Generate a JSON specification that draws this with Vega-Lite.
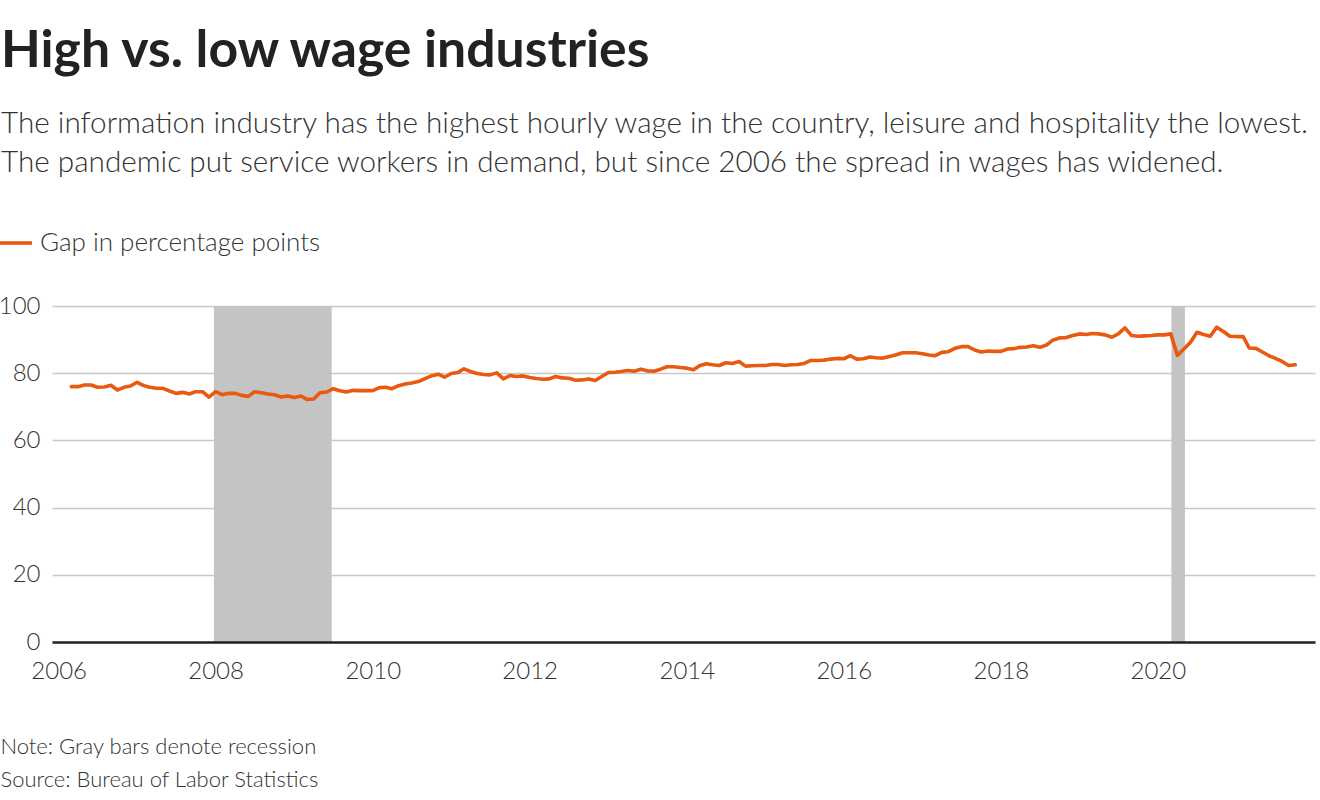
{
  "$schema": "https://vega.github.io/schema/vega-lite/v6.json",
  "width": 1263,
  "height": 336,
  "autosize": {"type": "none"},
  "padding": {"left": 52, "top": 306, "right": 5, "bottom": 158},
  "background": "white",
  "title": {
    "text": "High vs. low wage industries",
    "subtitle": [
      "The information industry has the highest hourly wage in the country, leisure and hospitality the lowest.",
      "The pandemic put service workers in demand, but since 2006 the spread in wages has widened."
    ],
    "anchor": "start",
    "frame": "group",
    "dx": -51,
    "offset": 47,
    "font": "Lato",
    "fontSize": 51.7,
    "fontWeight": 700,
    "color": "#222222",
    "subtitleFont": "Lato",
    "subtitleFontSize": 29.7,
    "subtitleFontWeight": 300,
    "subtitleColor": "#333333",
    "subtitleLineHeight": 39.5,
    "subtitlePadding": 32
  },
  "datasets": {
    "recessions": [
      {"date": "2007-12-24", "end": "2009-06-24"},
      {"date": "2020-03-04", "end": "2020-05-06"}
    ],
    "gap": [
      {"date": "2006-03-01", "gap": 76.0}, {"date": "2006-04-01", "gap": 76.0}, {"date": "2006-05-01", "gap": 76.5}, {"date": "2006-06-01", "gap": 76.5},
      {"date": "2006-07-01", "gap": 75.8}, {"date": "2006-08-01", "gap": 75.9}, {"date": "2006-09-01", "gap": 76.4}, {"date": "2006-10-01", "gap": 75.0},
      {"date": "2006-11-01", "gap": 75.8}, {"date": "2006-12-01", "gap": 76.2},
      {"date": "2007-01-01", "gap": 77.3}, {"date": "2007-02-01", "gap": 76.3}, {"date": "2007-03-01", "gap": 75.8}, {"date": "2007-04-01", "gap": 75.5},
      {"date": "2007-05-01", "gap": 75.5}, {"date": "2007-06-01", "gap": 74.7}, {"date": "2007-07-01", "gap": 74.0}, {"date": "2007-08-01", "gap": 74.3},
      {"date": "2007-09-01", "gap": 73.8}, {"date": "2007-10-01", "gap": 74.5}, {"date": "2007-11-01", "gap": 74.5}, {"date": "2007-12-01", "gap": 72.9},
      {"date": "2008-01-01", "gap": 74.5}, {"date": "2008-02-01", "gap": 73.6}, {"date": "2008-03-01", "gap": 74.0}, {"date": "2008-04-01", "gap": 74.0},
      {"date": "2008-05-01", "gap": 73.4}, {"date": "2008-06-01", "gap": 73.1}, {"date": "2008-07-01", "gap": 74.5}, {"date": "2008-08-01", "gap": 74.2},
      {"date": "2008-09-01", "gap": 73.8}, {"date": "2008-10-01", "gap": 73.6}, {"date": "2008-11-01", "gap": 72.9}, {"date": "2008-12-01", "gap": 73.2},
      {"date": "2009-01-01", "gap": 72.8}, {"date": "2009-02-01", "gap": 73.2}, {"date": "2009-03-01", "gap": 72.2}, {"date": "2009-04-01", "gap": 72.3},
      {"date": "2009-05-01", "gap": 74.2}, {"date": "2009-06-01", "gap": 74.4}, {"date": "2009-07-01", "gap": 75.4}, {"date": "2009-08-01", "gap": 74.8},
      {"date": "2009-09-01", "gap": 74.4}, {"date": "2009-10-01", "gap": 74.9}, {"date": "2009-11-01", "gap": 74.8}, {"date": "2009-12-01", "gap": 74.8},
      {"date": "2010-01-01", "gap": 74.8}, {"date": "2010-02-01", "gap": 75.7}, {"date": "2010-03-01", "gap": 75.8}, {"date": "2010-04-01", "gap": 75.4},
      {"date": "2010-05-01", "gap": 76.3}, {"date": "2010-06-01", "gap": 76.8}, {"date": "2010-07-01", "gap": 77.1}, {"date": "2010-08-01", "gap": 77.5},
      {"date": "2010-09-01", "gap": 78.4}, {"date": "2010-10-01", "gap": 79.2}, {"date": "2010-11-01", "gap": 79.7}, {"date": "2010-12-01", "gap": 78.8},
      {"date": "2011-01-01", "gap": 79.9}, {"date": "2011-02-01", "gap": 80.2}, {"date": "2011-03-01", "gap": 81.3}, {"date": "2011-04-01", "gap": 80.5},
      {"date": "2011-05-01", "gap": 79.9}, {"date": "2011-06-01", "gap": 79.6}, {"date": "2011-07-01", "gap": 79.5}, {"date": "2011-08-01", "gap": 80.1},
      {"date": "2011-09-01", "gap": 78.3}, {"date": "2011-10-01", "gap": 79.3}, {"date": "2011-11-01", "gap": 79.0}, {"date": "2011-12-01", "gap": 79.2},
      {"date": "2012-01-01", "gap": 78.7}, {"date": "2012-02-01", "gap": 78.4}, {"date": "2012-03-01", "gap": 78.2}, {"date": "2012-04-01", "gap": 78.3},
      {"date": "2012-05-01", "gap": 79.0}, {"date": "2012-06-01", "gap": 78.6}, {"date": "2012-07-01", "gap": 78.5}, {"date": "2012-08-01", "gap": 77.9},
      {"date": "2012-09-01", "gap": 78.0}, {"date": "2012-10-01", "gap": 78.3}, {"date": "2012-11-01", "gap": 77.8}, {"date": "2012-12-01", "gap": 79.0},
      {"date": "2013-01-01", "gap": 80.2}, {"date": "2013-02-01", "gap": 80.3}, {"date": "2013-03-01", "gap": 80.5}, {"date": "2013-04-01", "gap": 80.8},
      {"date": "2013-05-01", "gap": 80.6}, {"date": "2013-06-01", "gap": 81.2}, {"date": "2013-07-01", "gap": 80.7}, {"date": "2013-08-01", "gap": 80.6},
      {"date": "2013-09-01", "gap": 81.2}, {"date": "2013-10-01", "gap": 81.9}, {"date": "2013-11-01", "gap": 81.9}, {"date": "2013-12-01", "gap": 81.7},
      {"date": "2014-01-01", "gap": 81.5}, {"date": "2014-02-01", "gap": 81.0}, {"date": "2014-03-01", "gap": 82.2}, {"date": "2014-04-01", "gap": 82.8},
      {"date": "2014-05-01", "gap": 82.5}, {"date": "2014-06-01", "gap": 82.3}, {"date": "2014-07-01", "gap": 83.1}, {"date": "2014-08-01", "gap": 82.9},
      {"date": "2014-09-01", "gap": 83.5}, {"date": "2014-10-01", "gap": 82.1}, {"date": "2014-11-01", "gap": 82.2}, {"date": "2014-12-01", "gap": 82.3},
      {"date": "2015-01-01", "gap": 82.3}, {"date": "2015-02-01", "gap": 82.6}, {"date": "2015-03-01", "gap": 82.6}, {"date": "2015-04-01", "gap": 82.3},
      {"date": "2015-05-01", "gap": 82.5}, {"date": "2015-06-01", "gap": 82.6}, {"date": "2015-07-01", "gap": 82.9}, {"date": "2015-08-01", "gap": 83.8},
      {"date": "2015-09-01", "gap": 83.8}, {"date": "2015-10-01", "gap": 83.9}, {"date": "2015-11-01", "gap": 84.2}, {"date": "2015-12-01", "gap": 84.4},
      {"date": "2016-01-01", "gap": 84.3}, {"date": "2016-02-01", "gap": 85.2}, {"date": "2016-03-01", "gap": 84.2}, {"date": "2016-04-01", "gap": 84.3},
      {"date": "2016-05-01", "gap": 84.8}, {"date": "2016-06-01", "gap": 84.6}, {"date": "2016-07-01", "gap": 84.5}, {"date": "2016-08-01", "gap": 85.0},
      {"date": "2016-09-01", "gap": 85.5}, {"date": "2016-10-01", "gap": 86.1}, {"date": "2016-11-01", "gap": 86.1}, {"date": "2016-12-01", "gap": 86.1},
      {"date": "2017-01-01", "gap": 85.8}, {"date": "2017-02-01", "gap": 85.4}, {"date": "2017-03-01", "gap": 85.2}, {"date": "2017-04-01", "gap": 86.2},
      {"date": "2017-05-01", "gap": 86.4}, {"date": "2017-06-01", "gap": 87.4}, {"date": "2017-07-01", "gap": 87.9}, {"date": "2017-08-01", "gap": 87.9},
      {"date": "2017-09-01", "gap": 86.9}, {"date": "2017-10-01", "gap": 86.3}, {"date": "2017-11-01", "gap": 86.6}, {"date": "2017-12-01", "gap": 86.5},
      {"date": "2018-01-01", "gap": 86.5}, {"date": "2018-02-01", "gap": 87.2}, {"date": "2018-03-01", "gap": 87.3}, {"date": "2018-04-01", "gap": 87.7},
      {"date": "2018-05-01", "gap": 87.8}, {"date": "2018-06-01", "gap": 88.2}, {"date": "2018-07-01", "gap": 87.7}, {"date": "2018-08-01", "gap": 88.4},
      {"date": "2018-09-01", "gap": 89.9}, {"date": "2018-10-01", "gap": 90.5}, {"date": "2018-11-01", "gap": 90.6}, {"date": "2018-12-01", "gap": 91.2},
      {"date": "2019-01-01", "gap": 91.7}, {"date": "2019-02-01", "gap": 91.5}, {"date": "2019-03-01", "gap": 91.8}, {"date": "2019-04-01", "gap": 91.7},
      {"date": "2019-05-01", "gap": 91.4}, {"date": "2019-06-01", "gap": 90.7}, {"date": "2019-07-01", "gap": 91.7}, {"date": "2019-08-01", "gap": 93.5},
      {"date": "2019-09-01", "gap": 91.2}, {"date": "2019-10-01", "gap": 91.0}, {"date": "2019-11-01", "gap": 91.1}, {"date": "2019-12-01", "gap": 91.2},
      {"date": "2020-01-01", "gap": 91.4}, {"date": "2020-02-01", "gap": 91.4}, {"date": "2020-03-01", "gap": 91.7}, {"date": "2020-04-01", "gap": 85.3},
      {"date": "2020-05-01", "gap": 87.2}, {"date": "2020-06-01", "gap": 89.2}, {"date": "2020-07-01", "gap": 92.2}, {"date": "2020-08-01", "gap": 91.5},
      {"date": "2020-09-01", "gap": 91.0}, {"date": "2020-10-01", "gap": 93.7}, {"date": "2020-11-01", "gap": 92.4}, {"date": "2020-12-01", "gap": 91.0},
      {"date": "2021-01-01", "gap": 90.9}, {"date": "2021-02-01", "gap": 90.9}, {"date": "2021-03-01", "gap": 87.5}, {"date": "2021-04-01", "gap": 87.4},
      {"date": "2021-05-01", "gap": 86.3}, {"date": "2021-06-01", "gap": 85.2}, {"date": "2021-07-01", "gap": 84.4}, {"date": "2021-08-01", "gap": 83.5},
      {"date": "2021-09-01", "gap": 82.3}, {"date": "2021-10-01", "gap": 82.5}
    ]
  },
  "encoding": {
    "x": {
      "field": "date",
      "type": "temporal",
      "scale": {
        "type": "utc",
        "domain": [
          {"year": 2005, "month": 12, "date": 1, "utc": true},
          {"year": 2022, "month": 1, "date": 1, "utc": true}
        ]
      },
      "axis": {
        "values": [
          {"year": 2006, "utc": true}, {"year": 2008, "utc": true}, {"year": 2010, "utc": true},
          {"year": 2012, "utc": true}, {"year": 2014, "utc": true}, {"year": 2016, "utc": true},
          {"year": 2018, "utc": true}, {"year": 2020, "utc": true}
        ],
        "format": "%Y",
        "formatType": "utc",
        "zindex": 1,
        "grid": false,
        "ticks": false,
        "domain": true,
        "domainColor": "#222222",
        "domainWidth": 2.5,
        "labelPadding": 17,
        "labelFlush": false,
        "title": ["Note: Gray bars denote recession", "Source: Bureau of Labor Statistics"],
        "titleAnchor": "start",
        "titleAlign": "left",
        "titleBaseline": "alphabetic",
        "titleX": -52,
        "titleY": 111,
        "titleFont": "Lato",
        "titleFontSize": 22,
        "titleFontWeight": 300,
        "titleColor": "#333333",
        "titleLineHeight": 33
      }
    }
  },
  "layer": [
    {
      "data": {"name": "recessions"},
      "mark": {"type": "rect", "color": "#c4c4c4"},
      "encoding": {
        "x2": {"field": "end"}
      }
    },
    {
      "data": {"name": "gap"},
      "mark": {"type": "line", "strokeWidth": 3.6, "strokeJoin": "round", "strokeCap": "round"},
      "encoding": {
        "y": {
          "field": "gap",
          "type": "quantitative",
          "scale": {"domain": [0, 100], "nice": false, "zero": true},
          "axis": {
            "values": [0, 20, 40, 60, 80, 100],
            "title": null,
            "domain": false,
            "ticks": false,
            "grid": true,
            "gridColor": "#c8c8c8",
            "gridWidth": 1.5,
            "labelPadding": 12,
            "zindex": 0
          }
        },
        "color": {
          "datum": "Gap in percentage points",
          "type": "nominal",
          "scale": {"range": ["#e9590f"]},
          "legend": {
            "title": null,
            "orient": "none",
            "legendX": -54,
            "legendY": -81,
            "padding": 0,
            "symbolType": "stroke",
            "symbolSize": 1024,
            "symbolStrokeWidth": 3.6,
            "labelOffset": 6
          }
        }
      }
    }
  ],
  "config": {
    "view": {"stroke": null},
    "axis": {
      "labelFont": "Lato",
      "labelFontSize": 24,
      "labelFontWeight": 300,
      "labelColor": "#333333"
    },
    "legend": {
      "labelFont": "Lato",
      "labelFontSize": 26,
      "labelFontWeight": 300,
      "labelColor": "#333333",
      "labelLimit": 600
    }
  }
}
